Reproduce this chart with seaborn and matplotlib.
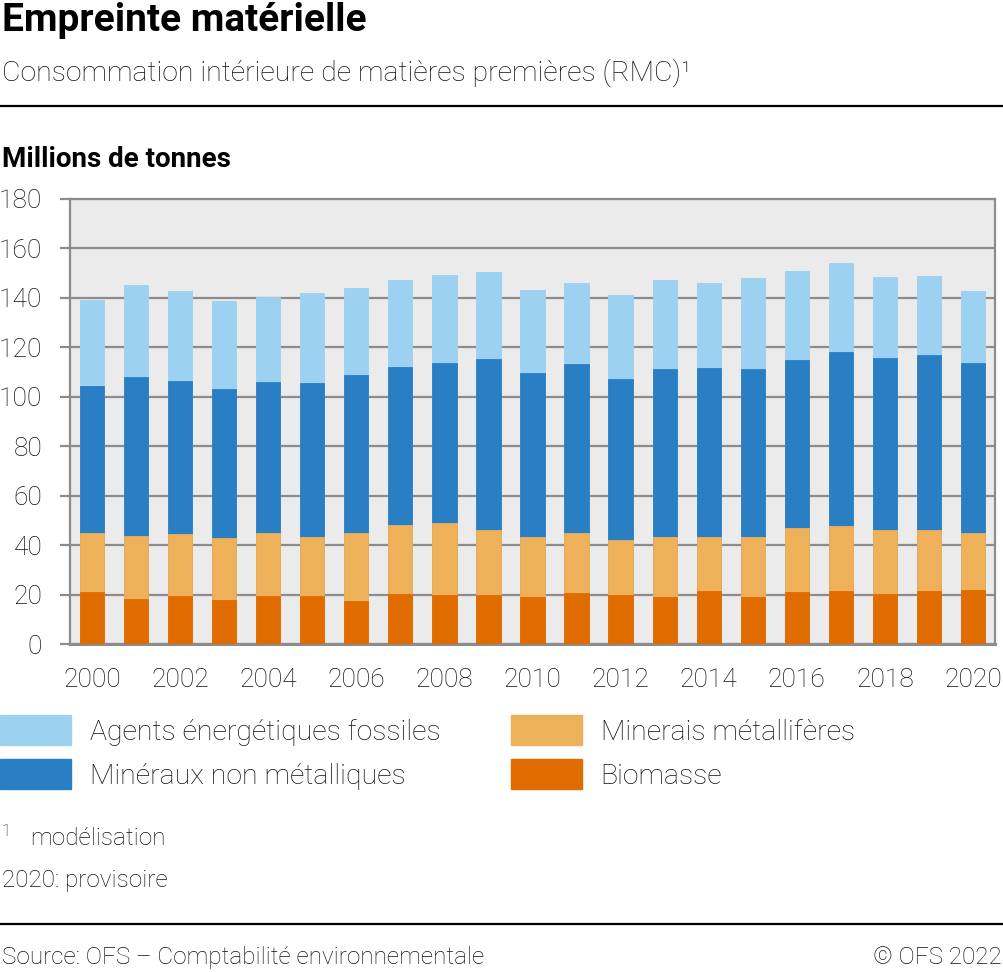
"""
Empreinte matérielle - RMC stacked bars (OFS).
"""
import numpy as np
import pandas as pd
import matplotlib
matplotlib.use("Agg")
import matplotlib.pyplot as plt
from matplotlib.patches import Patch
from matplotlib.lines import Line2D
import seaborn as sns

# --- data (millions de tonnes) ---
years = list(range(2000, 2021))
biomasse = [21.2, 18.3, 19.6, 17.8, 19.6, 19.6, 17.4, 20.2, 20.0, 20.0, 19.0,
            20.6, 19.8, 19.1, 21.4, 19.0, 21.2, 21.4, 20.4, 21.4, 21.8]
minerais = [23.6, 25.5, 24.8, 25.0, 25.2, 23.7, 27.4, 27.8, 29.1, 26.0, 24.3,
            24.3, 22.4, 24.3, 21.9, 24.4, 25.9, 26.3, 25.6, 24.8, 23.2]
mineraux = [59.6, 64.1, 62.0, 60.4, 61.3, 62.3, 64.0, 64.1, 64.6, 69.4, 66.2,
            68.5, 65.0, 67.8, 68.4, 67.8, 67.8, 70.4, 69.7, 70.7, 68.5]
fossiles = [34.8, 37.5, 36.5, 35.6, 34.1, 36.3, 35.1, 35.1, 35.7, 35.2, 33.7,
            32.8, 34.1, 36.0, 34.2, 36.7, 35.9, 35.9, 32.6, 32.0, 29.2]

series_names = ["Biomasse", "Minerais métallifères", "Minéraux non métalliques",
                "Agents énergétiques fossiles"]
colors = {"Biomasse": "#e06c00",
          "Minerais métallifères": "#efb05a",
          "Minéraux non métalliques": "#2a7fc4",
          "Agents énergétiques fossiles": "#9dd1f1"}
y_ticks = list(range(0, 181, 20))
x_ticklabels = [str(y) if y % 2 == 0 else "" for y in years]

df = pd.DataFrame({"year": [str(y) for y in years],
                   "Biomasse": biomasse,
                   "Minerais métallifères": minerais,
                   "Minéraux non métalliques": mineraux,
                   "Agents énergétiques fossiles": fossiles})

sns.set_theme(style="white")
plt.rcParams["font.family"] = ["Roboto", "DejaVu Sans"]
TXT = "#111111"

W, H = 1004, 972
fig = plt.figure(figsize=(W / 100, H / 100), dpi=100)
ax = fig.add_axes([70 / W, (H - 644) / H, 925 / W, 445 / H])
ax.set_facecolor("#ebebeb")

# stacked bars: draw cumulative totals from the top segment down
cum = df[series_names].cumsum(axis=1)
for name in reversed(series_names):
    sns.barplot(x=df["year"], y=cum[name], color=colors[name], width=0.55,
                saturation=1, ax=ax, zorder=3, edgecolor=colors[name], linewidth=0.6)

ax.set_xlim(-0.5, 20.5)
ax.set_ylim(0, 180)
ax.set_yticks(y_ticks)
ax.set_xticks(range(len(years)))
ax.set_xticklabels(x_ticklabels)
ax.set_xlabel("")
ax.set_ylabel("")
ax.yaxis.grid(True, color="#8c8c8c", linewidth=1.6, zorder=1)
ax.set_axisbelow(True)
for s in ["left", "right", "top", "bottom"]:
    ax.spines[s].set_visible(True)
    ax.spines[s].set_color("#8c8c8c")
    ax.spines[s].set_linewidth(1.6)
ax.spines["bottom"].set_linewidth(2.2)
ax.tick_params(axis="y", length=7, width=1.6, color="#8c8c8c", pad=13,
               labelsize=19, labelcolor=TXT, left=True)
ax.tick_params(axis="x", length=0, pad=17, labelsize=19, labelcolor=TXT)
for lab in ax.get_xticklabels() + ax.get_yticklabels():
    lab.set_fontweight("light")

# titles
fig.text(2 / W, 1 - 2 / H, "Empreinte matérielle", fontsize=28, fontweight="bold",
         va="top", ha="left", color="#000000")
fig.text(2 / W, 1 - 73 / H, "Consommation intérieure de matières premières (RMC)¹",
         fontsize=20.5, fontweight="light", va="center", ha="left", color=TXT)
fig.add_artist(Line2D([0, 1], [1 - 106 / H] * 2, color="#000000", linewidth=1.6,
                      transform=fig.transFigure))
fig.text(2 / W, 1 - 159 / H, "Millions de tonnes", fontsize=20, fontweight="bold",
         va="center", ha="left", color="#000000")

# legend: two columns pinned to their x positions
def legend_col(names, x):
    handles = [Patch(facecolor=colors[n], edgecolor=colors[n]) for n in names]
    leg = fig.legend(handles, names, loc="upper left",
                     bbox_to_anchor=(x / W, 1 - 715 / H), frameon=False,
                     fontsize=20.5, handlelength=2.5, handleheight=1.25,
                     handletextpad=0.65, labelspacing=0.48, borderpad=0,
                     borderaxespad=0)
    for t in leg.get_texts():
        t.set_color(TXT)
        t.set_fontweight("light")
    return leg

legend_col(["Agents énergétiques fossiles", "Minéraux non métalliques"], 0)
legend_col(["Minerais métallifères", "Biomasse"], 511)

# notes
fig.text(2 / W, 1 - 831 / H, "1", fontsize=12, fontweight="light",
         va="center", ha="left", color=TXT)
fig.text(30 / W, 1 - 838 / H, "modélisation", fontsize=17.5, fontweight="light",
         va="center", ha="left", color=TXT)
fig.text(2 / W, 1 - 881 / H, "2020: provisoire", fontsize=17.5, fontweight="light",
         va="center", ha="left", color=TXT)
fig.add_artist(Line2D([0, 1], [1 - 924 / H] * 2, color="#000000", linewidth=1.6,
                      transform=fig.transFigure))
fig.text(2 / W, 1 - 957 / H, "Source: OFS – Comptabilité environnementale",
         fontsize=17.5, fontweight="light", va="center", ha="left", color=TXT)
fig.text(1 - 2 / W, 1 - 957 / H, "© OFS 2022", fontsize=17.5, fontweight="light",
         va="center", ha="right", color=TXT)

fig.savefig("out.png", dpi=100)
